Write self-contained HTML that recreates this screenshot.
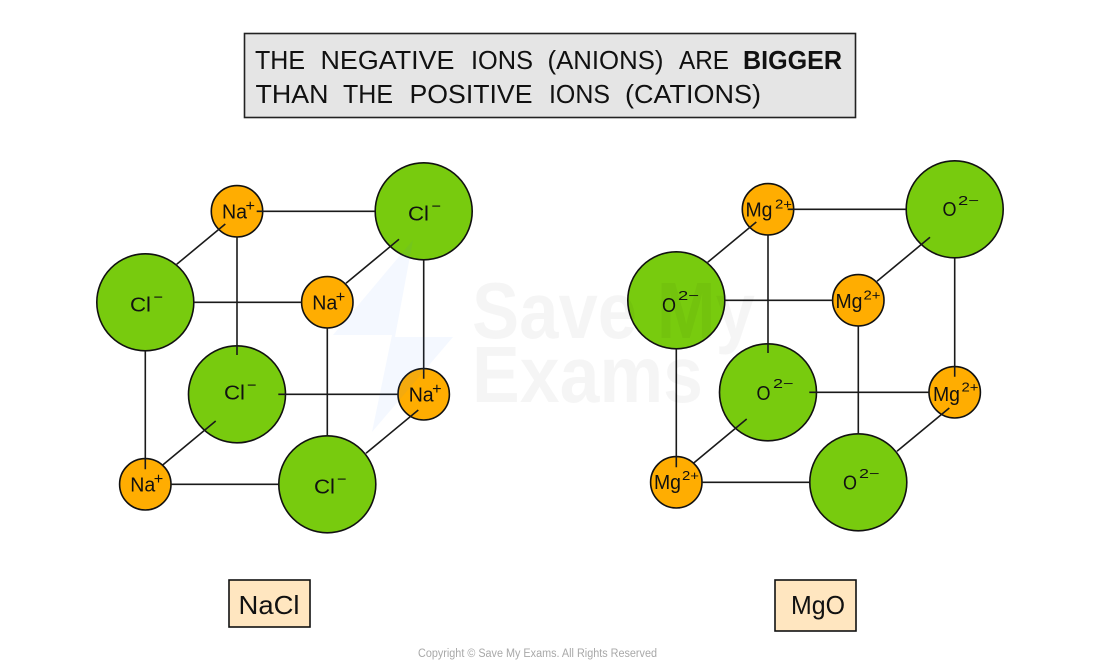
<!DOCTYPE html>
<html><head><meta charset="utf-8"><style>
html,body{margin:0;padding:0;background:#fff}
svg{display:block}
text{font-family:"Liberation Sans",sans-serif;fill:#111}
.l{stroke:#1a1a1a;stroke-width:1.6;fill:none;stroke-linecap:butt}
.g{fill:#78cb0e;stroke:#111;stroke-width:1.6}
.o{fill:#ffad01;stroke:#111;stroke-width:1.6}
.h{font-size:26px}
.i{font-size:20px}
.s{font-size:16px}
.t{font-size:13px}
</style></head><body>
<svg width="1100" height="672" viewBox="0 0 1100 672" xmlns="http://www.w3.org/2000/svg">
<defs>
<g id="cube">
<circle class="o" cx="237" cy="211.3" r="25.7"/>
<circle class="g" cx="423.7" cy="211.3" r="48.5"/>
<circle class="g" cx="145.3" cy="302.3" r="48.5"/>
<circle class="o" cx="327.3" cy="302.3" r="25.7"/>
<circle class="g" cx="237" cy="394.3" r="48.5"/>
<circle class="o" cx="423.7" cy="394.3" r="25.7"/>
<circle class="o" cx="145.3" cy="484.3" r="25.7"/>
<circle class="g" cx="327.3" cy="484.3" r="48.5"/>
<path class="l" d="M256.7 211.3H375.2M225.3 224L176.7 264.3M237 237V355M193.8 302.3H301.6M399 239.3L346 283.3M423.7 259.8V378.7M327.3 328V436M278.3 394.3H398M145.3 350.8V469.3M215.7 421L162.7 465M171 484.3H278.8M418.3 410L366 453.3"/>
</g>
</defs>

<rect x="244.5" y="33.5" width="611" height="84" fill="#e5e5e5" stroke="#222" stroke-width="1.6"/>
<text class="h" x="255" y="69" textLength="50" lengthAdjust="spacingAndGlyphs">THE</text>
<text class="h" x="320.5" y="69" textLength="134" lengthAdjust="spacingAndGlyphs">NEGATIVE</text>
<text class="h" x="471" y="69" textLength="62" lengthAdjust="spacingAndGlyphs">IONS</text>
<text class="h" x="547.5" y="69" textLength="116" lengthAdjust="spacingAndGlyphs">(ANIONS)</text>
<text class="h" x="679" y="69" textLength="50" lengthAdjust="spacingAndGlyphs">ARE</text>
<text class="h" x="743" y="69" textLength="99" lengthAdjust="spacingAndGlyphs" font-weight="bold">BIGGER</text>
<text class="h" x="255.5" y="103" textLength="73" lengthAdjust="spacingAndGlyphs">THAN</text>
<text class="h" x="343" y="103" textLength="50" lengthAdjust="spacingAndGlyphs">THE</text>
<text class="h" x="409.5" y="103" textLength="123" lengthAdjust="spacingAndGlyphs">POSITIVE</text>
<text class="h" x="549" y="103" textLength="61" lengthAdjust="spacingAndGlyphs">IONS</text>
<text class="h" x="625" y="103" textLength="136" lengthAdjust="spacingAndGlyphs">(CATIONS)</text>

<use href="#cube"/>
<use href="#cube" transform="translate(531,-2)"/>

<!-- NaCl labels -->
<text class="i" x="222" y="218.3" textLength="25" lengthAdjust="spacingAndGlyphs">Na</text><text class="s" x="245.5" y="211" textLength="9.5" lengthAdjust="spacingAndGlyphs">+</text>
<text class="i" x="312.3" y="309.3" textLength="25" lengthAdjust="spacingAndGlyphs">Na</text><text class="s" x="335.8" y="302" textLength="9.5" lengthAdjust="spacingAndGlyphs">+</text>
<text class="i" x="408.7" y="401.3" textLength="25" lengthAdjust="spacingAndGlyphs">Na</text><text class="s" x="432.2" y="394" textLength="9.5" lengthAdjust="spacingAndGlyphs">+</text>
<text class="i" x="130.3" y="491.3" textLength="25" lengthAdjust="spacingAndGlyphs">Na</text><text class="s" x="153.8" y="484" textLength="9.5" lengthAdjust="spacingAndGlyphs">+</text>

<text class="i" x="408" y="220.5" textLength="21" lengthAdjust="spacingAndGlyphs">Cl</text><text class="s" x="431.5" y="211.5" textLength="9.5" lengthAdjust="spacingAndGlyphs">−</text>
<text class="i" x="130" y="311.5" textLength="21" lengthAdjust="spacingAndGlyphs">Cl</text><text class="s" x="153.5" y="302.5" textLength="9.5" lengthAdjust="spacingAndGlyphs">−</text>
<text class="i" x="224" y="399.5" textLength="21" lengthAdjust="spacingAndGlyphs">Cl</text><text class="s" x="247" y="390.5" textLength="9.5" lengthAdjust="spacingAndGlyphs">−</text>
<text class="i" x="314" y="493.5" textLength="21" lengthAdjust="spacingAndGlyphs">Cl</text><text class="s" x="337" y="484.5" textLength="9.5" lengthAdjust="spacingAndGlyphs">−</text>

<!-- MgO labels -->
<text class="i" x="745.5" y="216.7" textLength="27" lengthAdjust="spacingAndGlyphs">Mg</text><text class="t" x="775" y="208.3" textLength="17" lengthAdjust="spacingAndGlyphs">2+</text>
<text class="i" x="835.5" y="308" textLength="27" lengthAdjust="spacingAndGlyphs">Mg</text><text class="t" x="863.5" y="299.3" textLength="17" lengthAdjust="spacingAndGlyphs">2+</text>
<text class="i" x="933" y="401" textLength="27" lengthAdjust="spacingAndGlyphs">Mg</text><text class="t" x="961.5" y="391.7" textLength="17" lengthAdjust="spacingAndGlyphs">2+</text>
<text class="i" x="654" y="489" textLength="27" lengthAdjust="spacingAndGlyphs">Mg</text><text class="t" x="682" y="480" textLength="17" lengthAdjust="spacingAndGlyphs">2+</text>

<text class="i" x="942.5" y="216" textLength="14" lengthAdjust="spacingAndGlyphs">O</text><text class="t" x="958" y="205" textLength="21" lengthAdjust="spacingAndGlyphs">2−</text>
<text class="i" x="662" y="312" textLength="14" lengthAdjust="spacingAndGlyphs">O</text><text class="t" x="678" y="300" textLength="21" lengthAdjust="spacingAndGlyphs">2−</text>
<text class="i" x="756.5" y="400" textLength="14" lengthAdjust="spacingAndGlyphs">O</text><text class="t" x="773" y="388" textLength="20.5" lengthAdjust="spacingAndGlyphs">2−</text>
<text class="i" x="843" y="489.5" textLength="14" lengthAdjust="spacingAndGlyphs">O</text><text class="t" x="859" y="478" textLength="20.5" lengthAdjust="spacingAndGlyphs">2−</text>

<!-- formula boxes -->
<rect x="229" y="580" width="81" height="47" fill="#ffe6c0" stroke="#111" stroke-width="1.6"/>
<text x="238.5" y="614" font-size="26" textLength="61" lengthAdjust="spacingAndGlyphs">NaCl</text>
<rect x="775" y="580" width="81" height="51" fill="#ffe6c0" stroke="#111" stroke-width="1.6"/>
<text x="791" y="614" font-size="26" textLength="54" lengthAdjust="spacingAndGlyphs">MgO</text>

<!-- watermark -->
<polygon points="413,240 333,335 392,335 372,432 453,337 395,337" fill="#3c78ff" fill-opacity="0.055"/>
<text x="472" y="338" font-size="80" font-weight="bold" fill-opacity="0.04" style="fill:#000" textLength="283" lengthAdjust="spacingAndGlyphs">Save My</text>
<text x="472" y="402" font-size="80" font-weight="bold" fill-opacity="0.04" style="fill:#000" textLength="231" lengthAdjust="spacingAndGlyphs">Exams</text>

<text x="418" y="657" font-size="11.5" style="fill:#a8a8a8" textLength="239" lengthAdjust="spacingAndGlyphs">Copyright © Save My Exams. All Rights Reserved</text>
</svg>
</body></html>
